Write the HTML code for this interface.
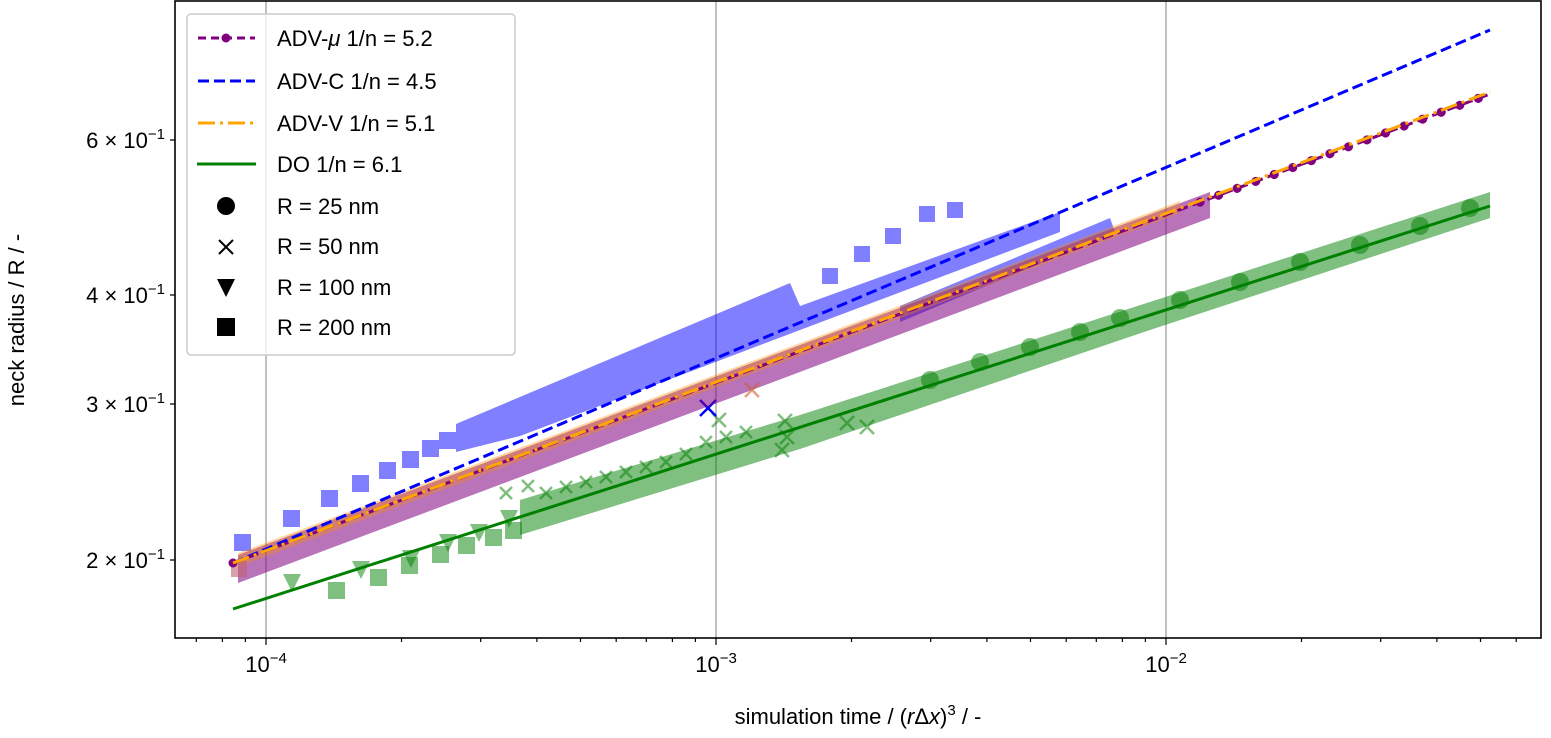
<!DOCTYPE html>
<html><head><meta charset="utf-8"><style>
body{margin:0;background:#fff;}
svg{display:block;font-family:"Liberation Sans","DejaVu Sans",sans-serif;}
</style></head><body>
<svg width="1551" height="738" xmlns="http://www.w3.org/2000/svg">
<rect width="1551" height="738" fill="#fff"/>
<g stroke="#b0b0b0" stroke-width="1.6">
<line x1="266" y1="1" x2="266" y2="638"/><line x1="716" y1="1" x2="716" y2="638"/><line x1="1166" y1="1" x2="1166" y2="638"/>
</g>
<!-- green cloud -->
<g fill="#008000" fill-opacity="0.5">
<polygon points="520,500 800,415 1150,302 1490,192 1490,218 1150,330 800,449 520,535"/>
<rect x="328" y="582" width="17" height="17"/><rect x="370" y="569" width="17" height="17"/><rect x="401" y="557" width="17" height="17"/><rect x="432" y="546" width="17" height="17"/><rect x="458" y="537" width="17" height="17"/><rect x="485" y="529" width="17" height="17"/><rect x="505" y="522" width="17" height="17"/>
<path d="M283 574h18l-9 18z M352 561h18l-9 18z M402 550h18l-9 18z M439 534h18l-9 18z M470 524h18l-9 18z M500 510h18l-9 18z"/>
<circle cx="930" cy="380" r="9"/><circle cx="980" cy="362" r="9"/><circle cx="1030" cy="347" r="9"/><circle cx="1080" cy="332" r="9"/><circle cx="1120" cy="318" r="9"/><circle cx="1180" cy="300" r="9"/><circle cx="1240" cy="282" r="9"/><circle cx="1300" cy="262" r="9"/><circle cx="1360" cy="245" r="9"/><circle cx="1420" cy="226" r="9"/><circle cx="1470" cy="208" r="9"/>
</g>
<g stroke="#008000" stroke-opacity="0.5" stroke-width="2.5" fill="none">
<path d="M840 416l14 14m0-14l-14 14 M780 430l14 14m0-14l-14 14 M860 420l14 14m0-14l-14 14 M775 443l14 14m0-14l-14 14 M778 414l14 14m0-14l-14 14 M712 413l14 14m0-14l-14 14 M500 487l12 12m0-12l-12 12 M522 480l12 12m0-12l-12 12 M540 487l12 12m0-12l-12 12 M560 481l12 12m0-12l-12 12 M580 476l12 12m0-12l-12 12 M600 471l12 12m0-12l-12 12 M620 466l12 12m0-12l-12 12 M640 461l12 12m0-12l-12 12 M660 456l12 12m0-12l-12 12 M680 448l12 12m0-12l-12 12 M700 436l12 12m0-12l-12 12 M720 431l12 12m0-12l-12 12 M740 426l12 12m0-12l-12 12"/>
</g>
<!-- blue cloud -->
<g fill="#0000ff" fill-opacity="0.5">
<rect x="234" y="534" width="17" height="17"/><rect x="283" y="510" width="17" height="17"/><rect x="321" y="490" width="17" height="17"/><rect x="352" y="475" width="17" height="17"/><rect x="379" y="462" width="17" height="17"/><rect x="402" y="451" width="17" height="17"/><rect x="422" y="440" width="17" height="17"/><rect x="439" y="432" width="17" height="17"/>
<polygon points="456,424 790,283 800,306 1060,212 1060,232 800,330 520,436 456,452"/>
<rect x="822" y="268" width="16" height="16"/><rect x="854" y="246" width="16" height="16"/><rect x="885" y="228" width="16" height="16"/><rect x="919" y="206" width="16" height="16"/><rect x="947" y="202" width="16" height="16"/>
<polygon points="900,306 1110,218 1115,232 900,322"/>
<path d="M700 400l16 16m0-16l-16 16" stroke="#0000ff" stroke-width="2.5" fill="none"/>
</g>
<!-- purple/orange cloud -->
<polygon points="238,555 1210,192 1210,218 238,583" fill="#800080" fill-opacity="0.55"/>
<polygon points="238,553 1180,201 1180,213 238,567" fill="#ff8c00" fill-opacity="0.35"/>
<rect x="231" y="561" width="16" height="16" fill="#c06070" fill-opacity="0.6"/>
<path d="M745 383l14 14m0-14l-14 14" stroke="#d06030" stroke-opacity="0.6" stroke-width="2.5"/>
<g fill="none" stroke-width="3">
<line x1="233" y1="609" x2="1490" y2="206" stroke="#008000"/>
<line x1="233" y1="563" x2="1490" y2="30" stroke="#0000ff" stroke-dasharray="11,5"/>
<line x1="233" y1="563" x2="1490" y2="94" stroke="#800080" stroke-dasharray="11,5"/>
<line x1="1200" y1="202.2" x2="1490" y2="94" stroke="#800080" stroke-width="9" stroke-linecap="round" stroke-dasharray="0.1,19.7"/>
<circle cx="233" cy="563" r="4.5" fill="#800080" stroke="none"/>
<line x1="233" y1="563" x2="1490" y2="92" stroke="#ffa500" stroke-dasharray="17,5,3,5"/>
</g>
<rect x="175" y="1" width="1366" height="637" fill="none" stroke="#000" stroke-width="1.6"/>
<g stroke="#000" stroke-width="1.2">
<line x1="266" y1="638" x2="266" y2="645"/><line x1="716" y1="638" x2="716" y2="645"/><line x1="1166" y1="638" x2="1166" y2="645"/>
<path d="M196.3 638v4M222.4 638v4M245.4 638v4M401.5 638v4M480.7 638v4M536.9 638v4M580.5 638v4M616.2 638v4M646.3 638v4M672.4 638v4M695.4 638v4M851.5 638v4M930.7 638v4M986.9 638v4M1030.5 638v4M1066.2 638v4M1096.3 638v4M1122.4 638v4M1145.4 638v4M1301.5 638v4M1380.7 638v4M1436.9 638v4M1480.5 638v4M1516.2 638v4"/>
<path d="M175 560h-5M175 404h-5M175 295h-5M175 140h-5"/>
</g>
<g font-size="22" fill="#000">
<text x="266" y="672" text-anchor="middle">10<tspan dy="-9" font-size="15">−4</tspan></text>
<text x="716" y="672" text-anchor="middle">10<tspan dy="-9" font-size="15">−3</tspan></text>
<text x="1166" y="672" text-anchor="middle">10<tspan dy="-9" font-size="15">−2</tspan></text>
<text x="165" y="568" text-anchor="end">2 × 10<tspan dy="-9" font-size="15">−1</tspan></text>
<text x="165" y="412" text-anchor="end">3 × 10<tspan dy="-9" font-size="15">−1</tspan></text>
<text x="165" y="303" text-anchor="end">4 × 10<tspan dy="-9" font-size="15">−1</tspan></text>
<text x="165" y="148" text-anchor="end">6 × 10<tspan dy="-9" font-size="15">−1</tspan></text>
<text x="858" y="724" text-anchor="middle">simulation time / (<tspan font-style="italic">r</tspan>Δ<tspan font-style="italic">x</tspan>)<tspan dy="-9" font-size="15">3</tspan><tspan dy="9"> / -</tspan></text>
<text transform="translate(24,320) rotate(-90)" text-anchor="middle">neck radius / R / -</text>
</g>
<g>
<rect x="187" y="14" width="328" height="341" rx="4" fill="#fff" fill-opacity="0.8" stroke="#ccc" stroke-width="1.5"/>
<line x1="198" y1="38" x2="255" y2="38" stroke="#800080" stroke-width="3" stroke-dasharray="8,5"/><circle cx="226" cy="38" r="4.5" fill="#800080"/>
<line x1="198" y1="81" x2="255" y2="81" stroke="#0000ff" stroke-width="3" stroke-dasharray="11,5"/>
<line x1="198" y1="123" x2="255" y2="123" stroke="#ffa500" stroke-width="3" stroke-dasharray="17,5,3,5"/>
<line x1="197" y1="164" x2="256" y2="164" stroke="#008000" stroke-width="3"/>
<circle cx="226" cy="206" r="9" fill="#000"/>
<path d="M219 240 L233 254 M233 240 L219 254" stroke="#000" stroke-width="2"/>
<path d="M217 279 L235 279 L226 297 Z" fill="#000"/>
<rect x="217" y="318" width="18" height="18" fill="#000"/>
<g font-size="22" fill="#000">
<text x="277" y="46">ADV-<tspan font-style="italic">μ</tspan> 1/n = 5.2</text>
<text x="277" y="89">ADV-C 1/n = 4.5</text>
<text x="277" y="131">ADV-V 1/n = 5.1</text>
<text x="277" y="172">DO 1/n = 6.1</text>
<text x="277" y="214">R = 25 nm</text>
<text x="277" y="254">R = 50 nm</text>
<text x="277" y="295">R = 100 nm</text>
<text x="277" y="335">R = 200 nm</text>
</g>
</g>
</svg>
</body></html>
